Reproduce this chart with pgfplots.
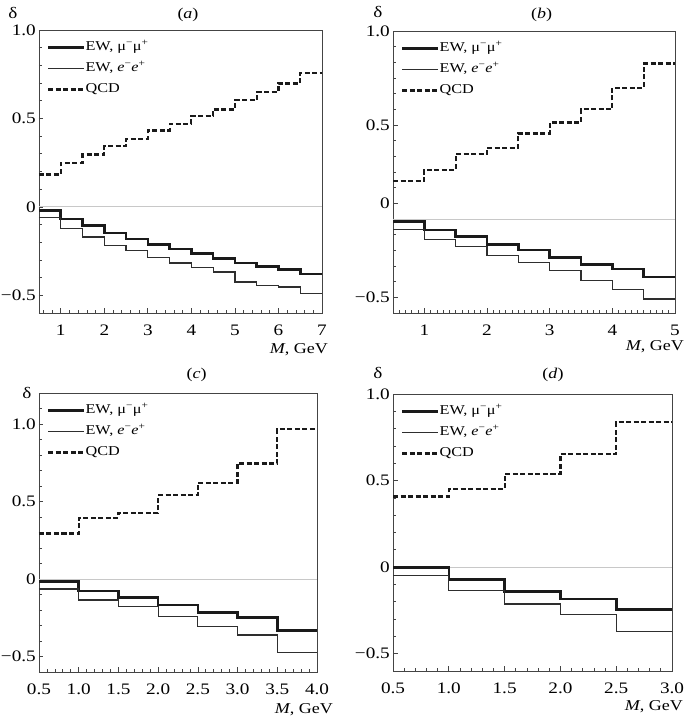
\documentclass[border=0pt]{standalone}
\usepackage{fontspec}
\setmainfont{Liberation Serif}[FakeStretch=1.2]
\usepackage{pgfplots}
\pgfplotsset{compat=1.18}

\newcommand{\tfont}{\fontsize{16}{19}\selectfont}
\newcommand{\lfont}{\fontsize{13.5}{15}\selectfont}
\newcommand{\hfont}{\fontsize{15}{17}\selectfont}
\definecolor{ink}{HTML}{1A1A1A}
\definecolor{inkb}{HTML}{2E2E2E}
\definecolor{zline}{HTML}{C8C8C8}
\definecolor{axc}{HTML}{444444}

\pgfplotsset{
  panel/.style={
    scale only axis,
    anchor=south west,
    axis line style={axc, line width=0.8pt},
    tick style={axc, line width=0.7pt},
    major tick length=4.5pt, minor tick length=2.8pt,
    tick align=inside,
    xtick pos=bottom, ytick pos=left,
    ticklabel style={font=\tfont},
    yticklabel style={inner sep=0pt, xshift=-3pt},
    xticklabel style={inner sep=0pt, yshift=-12pt},
    legend style={draw=none, fill=none, at={(0,1)}, anchor=north west,
      font=\lfont, inner sep=0pt, outer sep=0pt, xshift=8pt, yshift=-11pt,
      row sep=8pt, nodes={inner sep=0pt, text height=10pt, text depth=3pt}},
    legend image code/.code={\draw[#1] plot coordinates {(0pt,0pt) (36pt,0pt)};},
    legend cell align=left,
  },
  mu/.style={ink, line width=2.6pt, const plot},
  el/.style={inkb, line width=1.2pt, const plot},
  qcd/.style={ink, line width=2.2pt, dash pattern=on 5pt off 2.5pt, const plot},
  zl/.style={zline, line width=0.9pt, forget plot},
}

\begin{document}
\begin{tikzpicture}
\path[use as bounding box] (0,0) rectangle (685pt,720pt);

% ---------------- (a)
\begin{axis}[panel, name=A, at={(39pt,407pt)}, width=283pt, height=283pt,
  xmin=0.5, xmax=7, ymin=-0.6, ymax=1.0,
  xtick={1,2,3,4,5,6,7}, xticklabels={1,2,3,4,5,6,7},
  minor xtick={0.6,0.8,...,6.9},
  ytick={-0.5,0,0.5,1.0}, yticklabels={−0.5,0,0.5,1.0},
  minor ytick={-0.6,-0.5,...,0.95}]
\addplot[zl] coordinates {(0.5,0) (7,0)};
\addplot[mu] coordinates {(0.5,-0.021) (1,-0.068) (1.5,-0.106) (2,-0.147) (2.5,-0.181) (3,-0.213) (3.5,-0.238) (4,-0.264) (4.5,-0.292) (5,-0.317) (5.5,-0.336) (6,-0.355) (6.5,-0.379) (7,-0.379)};
\addlegendentry{EW, μ\textsuperscript{−}μ\textsuperscript{+}}
\addplot[el] coordinates {(0.5,-0.062) (1,-0.121) (1.5,-0.170) (2,-0.217) (2.5,-0.245) (3,-0.285) (3.5,-0.317) (4,-0.345) (4.5,-0.368) (5,-0.425) (5.5,-0.443) (6,-0.453) (6.5,-0.491) (7,-0.491)};
\addlegendentry{EW, \textit{e}\textsuperscript{−}\textit{e}\textsuperscript{+}}
\addplot[qcd] coordinates {(0.5,0.183) (1,0.249) (1.5,0.296) (2,0.343) (2.5,0.385) (3,0.432) (3.5,0.470) (4,0.513) (4.5,0.551) (5,0.602) (5.5,0.649) (6,0.698) (6.5,0.758) (7,0.758)};
\addlegendentry{QCD}
\end{axis}
\node[font=\hfont] at (A.north) [xshift=7.5pt, yshift=15pt] {(\textit{a})};
\node[font=\tfont] at (A.north west) [xshift=-26pt, yshift=17pt] {δ};
\node[font=\hfont, anchor=north east, inner sep=0pt] at (A.south east) [xshift=6pt, yshift=-30pt] {\textit{M}, GeV};

% ---------------- (b)
\begin{axis}[panel, name=B, at={(393pt,407pt)}, width=282pt, height=282pt,
  xmin=0.5, xmax=5, ymin=-0.6, ymax=1.2,
  xtick={1,2,3,4,5}, xticklabels={1,2,3,4,5},
  minor xtick={0.6,0.7,...,4.95},
  ytick={-0.5,0.1,0.6,1.2}, yticklabels={−0.5,0,0.5,1.0},
  minor ytick={-0.6,-0.5,...,1.15}]
\addplot[zl] coordinates {(0.5,0) (5,0)};
\addplot[mu] coordinates {(0.5,-0.017) (1,-0.070) (1.5,-0.112) (2,-0.161) (2.5,-0.197) (3,-0.244) (3.5,-0.289) (4,-0.320) (4.5,-0.371) (5,-0.371)};
\addlegendentry{EW, μ\textsuperscript{−}μ\textsuperscript{+}}
\addplot[el] coordinates {(0.5,-0.066) (1,-0.129) (1.5,-0.176) (2,-0.233) (2.5,-0.276) (3,-0.331) (3.5,-0.394) (4,-0.452) (4.5,-0.511) (5,-0.511)};
\addlegendentry{EW, \textit{e}\textsuperscript{−}\textit{e}\textsuperscript{+}}
\addplot[qcd] coordinates {(0.5,0.242) (1,0.313) (1.5,0.414) (2,0.455) (2.5,0.546) (3,0.616) (3.5,0.701) (4,0.837) (4.5,0.992) (5,0.992)};
\addlegendentry{QCD}
\end{axis}
\node[font=\hfont] at (B.north) [xshift=7.7pt, yshift=16pt] {(\textit{b})};
\node[font=\tfont] at (B.north west) [xshift=-15pt, yshift=19pt] {δ};
\node[font=\hfont, anchor=north east, inner sep=0pt] at (B.south east) [xshift=9pt, yshift=-27pt] {\textit{M}, GeV};

% ---------------- (c)
\begin{axis}[panel, name=C, at={(39pt,48pt)}, width=278pt, height=279pt,
  xmin=0.5, xmax=4, ymin=-0.6, ymax=1.2,
  xtick={0.5,1,1.5,2,2.5,3,3.5,4}, xticklabels={0.5,1.0,1.5,2.0,2.5,3.0,3.5,4.0},
  minor xtick={0.6,0.7,...,3.95},
  ytick={-0.5,0,0.5,1.0}, yticklabels={−0.5,0,0.5,1.0},
  minor ytick={-0.6,-0.5,...,1.15}]
\addplot[zl] coordinates {(0.5,0) (4,0)};
\addplot[mu] coordinates {(0.5,-0.017) (1,-0.077) (1.5,-0.120) (2,-0.167) (2.5,-0.217) (3,-0.249) (3.5,-0.333) (4,-0.333)};
\addlegendentry{EW, μ\textsuperscript{−}μ\textsuperscript{+}}
\addplot[el] coordinates {(0.5,-0.064) (1,-0.135) (1.5,-0.178) (2,-0.242) (2.5,-0.307) (3,-0.361) (3.5,-0.472) (4,-0.472)};
\addlegendentry{EW, \textit{e}\textsuperscript{−}\textit{e}\textsuperscript{+}}
\addplot[qcd] coordinates {(0.5,0.294) (1,0.395) (1.5,0.427) (2,0.541) (2.5,0.620) (3,0.745) (3.5,0.966) (4,0.966)};
\addlegendentry{QCD}
\end{axis}
\node[font=\hfont] at (C.north) [xshift=18.7pt, yshift=18pt] {(\textit{c})};
\node[font=\tfont] at (C.north west) [xshift=-12pt, yshift=0pt] {δ};
\node[font=\hfont, anchor=north east, inner sep=0pt] at (C.south east) [xshift=16pt, yshift=-31pt] {\textit{M}, GeV};

% ---------------- (d)
\begin{axis}[panel, name=D, at={(393pt,49pt)}, width=279pt, height=277pt,
  xmin=0.5, xmax=3, ymin=-0.6, ymax=1.0,
  xtick={0.5,1,1.5,2,2.5,3}, xticklabels={0.5,1.0,1.5,2.0,2.5,3.0},
  minor xtick={0.6,0.7,...,2.95},
  ytick={-0.5,0,0.5,1.0}, yticklabels={−0.5,0,0.5,1.0},
  minor ytick={-0.6,-0.5,...,0.95}]
\addplot[zl] coordinates {(0.5,0) (3,0)};
\addplot[mu] coordinates {(0.5,-0.002) (1,-0.073) (1.5,-0.140) (2,-0.185) (2.5,-0.246) (3,-0.246)};
\addlegendentry{EW, μ\textsuperscript{−}μ\textsuperscript{+}}
\addplot[el] coordinates {(0.5,-0.048) (1,-0.137) (1.5,-0.213) (2,-0.275) (2.5,-0.371) (3,-0.371)};
\addlegendentry{EW, \textit{e}\textsuperscript{−}\textit{e}\textsuperscript{+}}
\addplot[qcd] coordinates {(0.5,0.408) (1,0.450) (1.5,0.538) (2,0.652) (2.5,0.837) (3,0.837)};
\addlegendentry{QCD}
\end{axis}
\node[font=\hfont] at (D.north) [xshift=20.5pt, yshift=19pt] {(\textit{d})};
\node[font=\tfont] at (D.north west) [xshift=-15pt, yshift=21pt] {δ};
\node[font=\hfont, anchor=north east, inner sep=0pt] at (D.south east) [xshift=11pt, yshift=-29pt] {\textit{M}, GeV};
\end{tikzpicture}
\end{document}
